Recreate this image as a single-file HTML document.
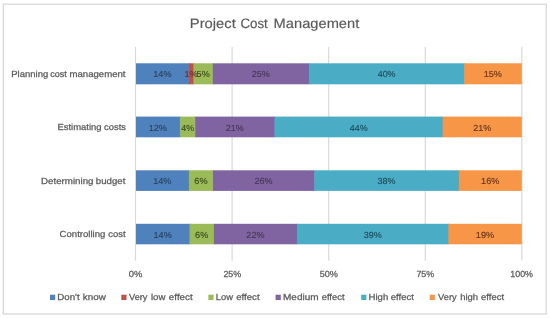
<!DOCTYPE html>
<html lang="en"><head><meta charset="utf-8"><title>Project Cost Management</title>
<style>
html,body{margin:0;padding:0;background:#fff;}
body{width:550px;height:318px;overflow:hidden;}
svg{display:block;}
text{font-family:"Liberation Sans",Arial,sans-serif;text-rendering:geometricPrecision;}
.t{fill:#595959;stroke:#595959;stroke-width:0.25px;font-size:8.8px;}
.d0{fill:#2B4462;stroke:#2B4462;stroke-width:0.15px;font-size:8.8px;}
.d1{fill:#68302E;stroke:#68302E;stroke-width:0.15px;font-size:8.8px;}
.d2{fill:#3A4A20;stroke:#3A4A20;stroke-width:0.15px;font-size:8.8px;}
.d3{fill:#463858;stroke:#463858;stroke-width:0.15px;font-size:8.8px;}
.d4{fill:#204D5A;stroke:#204D5A;stroke-width:0.15px;font-size:8.8px;}
.d5{fill:#663620;stroke:#663620;stroke-width:0.15px;font-size:8.8px;}
.title{fill:#595959;stroke:#595959;stroke-width:0.15px;font-size:13.6px;}
</style></head><body>
<svg width="550" height="318" viewBox="0 0 550 318">
<rect x="0" y="0" width="550" height="318" fill="#ffffff"/>
<rect x="3.3" y="4.2" width="542.9" height="309.8" fill="#ffffff" stroke="#d9d9d9" stroke-width="1.3"/>
<line x1="135.50" y1="46.9" x2="135.50" y2="260.7" stroke="#d9d9d9" stroke-width="1.2"/>
<line x1="232.10" y1="46.9" x2="232.10" y2="260.7" stroke="#d9d9d9" stroke-width="1.2"/>
<line x1="328.70" y1="46.9" x2="328.70" y2="260.7" stroke="#d9d9d9" stroke-width="1.2"/>
<line x1="425.30" y1="46.9" x2="425.30" y2="260.7" stroke="#d9d9d9" stroke-width="1.2"/>
<line x1="521.90" y1="46.9" x2="521.90" y2="260.7" stroke="#d9d9d9" stroke-width="1.2"/>
<rect x="136.0" y="63.30" width="53.8" height="21.0" fill="#4F81BD"/>
<rect x="189.0" y="63.30" width="5.2" height="21.0" fill="#C0504D"/>
<rect x="193.4" y="63.30" width="20.2" height="21.0" fill="#9BBB59"/>
<rect x="212.8" y="63.30" width="96.9" height="21.0" fill="#8064A2"/>
<rect x="308.9" y="63.30" width="156.0" height="21.0" fill="#4BACC6"/>
<rect x="464.1" y="63.30" width="57.7" height="21.0" fill="#F79646"/>
<rect x="136.0" y="116.60" width="44.7" height="20.7" fill="#4F81BD"/>
<rect x="179.9" y="116.60" width="16.2" height="20.7" fill="#9BBB59"/>
<rect x="195.3" y="116.60" width="79.9" height="20.7" fill="#8064A2"/>
<rect x="274.4" y="116.60" width="169.1" height="20.7" fill="#4BACC6"/>
<rect x="442.7" y="116.60" width="79.1" height="20.7" fill="#F79646"/>
<rect x="136.0" y="170.30" width="53.7" height="20.6" fill="#4F81BD"/>
<rect x="188.9" y="170.30" width="24.9" height="20.6" fill="#9BBB59"/>
<rect x="213.0" y="170.30" width="101.9" height="20.6" fill="#8064A2"/>
<rect x="314.1" y="170.30" width="145.6" height="20.6" fill="#4BACC6"/>
<rect x="458.9" y="170.30" width="62.9" height="20.6" fill="#F79646"/>
<rect x="136.0" y="223.80" width="54.3" height="20.5" fill="#4F81BD"/>
<rect x="189.5" y="223.80" width="25.2" height="20.5" fill="#9BBB59"/>
<rect x="213.9" y="223.80" width="83.8" height="20.5" fill="#8064A2"/>
<rect x="296.9" y="223.80" width="152.2" height="20.5" fill="#4BACC6"/>
<rect x="448.3" y="223.80" width="73.5" height="20.5" fill="#F79646"/>
<rect x="50.0" y="294.7" width="5.2" height="5.3" fill="#4F81BD"/>
<rect x="121.3" y="294.7" width="5.2" height="5.3" fill="#C0504D"/>
<rect x="208.4" y="294.7" width="5.2" height="5.3" fill="#9BBB59"/>
<rect x="275.6" y="294.7" width="5.2" height="5.3" fill="#8064A2"/>
<rect x="361.2" y="294.7" width="5.2" height="5.3" fill="#4BACC6"/>
<rect x="429.7" y="294.7" width="5.2" height="5.3" fill="#F79646"/>
<text class="title" y="28"><tspan x="189.81" textLength="45.98" lengthAdjust="spacingAndGlyphs">Project</tspan> <tspan x="240.41" textLength="27.36" lengthAdjust="spacingAndGlyphs">Cost</tspan> <tspan x="273.61" textLength="85.67" lengthAdjust="spacingAndGlyphs">Management</tspan></text>
<text class="t" y="77"><tspan x="11.24" textLength="36.99" lengthAdjust="spacingAndGlyphs">Planning</tspan> <tspan x="50.19" textLength="16.66" lengthAdjust="spacingAndGlyphs">cost</tspan> <tspan x="69.45" textLength="56.10" lengthAdjust="spacingAndGlyphs">management</tspan></text>
<text class="d0" y="77"><tspan x="153.28" textLength="18.25" lengthAdjust="spacingAndGlyphs">14%</tspan></text>
<text class="d1" y="77"><tspan x="184.42" textLength="13.37" lengthAdjust="spacingAndGlyphs">1%</tspan></text>
<text class="d2" y="77"><tspan x="196.64" textLength="13.04" lengthAdjust="spacingAndGlyphs">5%</tspan></text>
<text class="d3" y="77"><tspan x="251.84" textLength="18.04" lengthAdjust="spacingAndGlyphs">25%</tspan></text>
<text class="d4" y="77"><tspan x="377.70" textLength="17.83" lengthAdjust="spacingAndGlyphs">40%</tspan></text>
<text class="d5" y="77"><tspan x="483.73" textLength="18.25" lengthAdjust="spacingAndGlyphs">15%</tspan></text>
<text class="t" y="130"><tspan x="57.45" textLength="44.08" lengthAdjust="spacingAndGlyphs">Estimating</tspan> <tspan x="104.08" textLength="21.84" lengthAdjust="spacingAndGlyphs">costs</tspan></text>
<text class="d0" y="131"><tspan x="148.73" textLength="18.25" lengthAdjust="spacingAndGlyphs">12%</tspan></text>
<text class="d2" y="131"><tspan x="181.25" textLength="12.93" lengthAdjust="spacingAndGlyphs">4%</tspan></text>
<text class="d3" y="131"><tspan x="225.84" textLength="18.04" lengthAdjust="spacingAndGlyphs">21%</tspan></text>
<text class="d4" y="131"><tspan x="349.75" textLength="17.83" lengthAdjust="spacingAndGlyphs">44%</tspan></text>
<text class="d5" y="131"><tspan x="473.24" textLength="18.04" lengthAdjust="spacingAndGlyphs">21%</tspan></text>
<text class="t" y="184"><tspan x="41.03" textLength="52.52" lengthAdjust="spacingAndGlyphs">Determining</tspan> <tspan x="95.85" textLength="29.50" lengthAdjust="spacingAndGlyphs">budget</tspan></text>
<text class="d0" y="184"><tspan x="153.23" textLength="18.25" lengthAdjust="spacingAndGlyphs">14%</tspan></text>
<text class="d2" y="184"><tspan x="194.39" textLength="13.15" lengthAdjust="spacingAndGlyphs">6%</tspan></text>
<text class="d3" y="184"><tspan x="254.54" textLength="18.04" lengthAdjust="spacingAndGlyphs">26%</tspan></text>
<text class="d4" y="184"><tspan x="377.59" textLength="17.93" lengthAdjust="spacingAndGlyphs">38%</tspan></text>
<text class="d5" y="184"><tspan x="481.13" textLength="18.25" lengthAdjust="spacingAndGlyphs">16%</tspan></text>
<text class="t" y="237"><tspan x="59.56" textLength="45.88" lengthAdjust="spacingAndGlyphs">Controlling</tspan> <tspan x="108.38" textLength="17.27" lengthAdjust="spacingAndGlyphs">cost</tspan></text>
<text class="d0" y="238"><tspan x="153.53" textLength="18.25" lengthAdjust="spacingAndGlyphs">14%</tspan></text>
<text class="d2" y="238"><tspan x="195.14" textLength="13.15" lengthAdjust="spacingAndGlyphs">6%</tspan></text>
<text class="d3" y="238"><tspan x="246.39" textLength="18.04" lengthAdjust="spacingAndGlyphs">22%</tspan></text>
<text class="d4" y="238"><tspan x="363.69" textLength="17.93" lengthAdjust="spacingAndGlyphs">39%</tspan></text>
<text class="d5" y="238"><tspan x="475.83" textLength="18.25" lengthAdjust="spacingAndGlyphs">19%</tspan></text>
<text class="t" y="277"><tspan x="128.88" textLength="13.56" lengthAdjust="spacingAndGlyphs">0%</tspan></text>
<text class="t" y="277"><tspan x="223.40" textLength="17.83" lengthAdjust="spacingAndGlyphs">25%</tspan></text>
<text class="t" y="277"><tspan x="319.69" textLength="18.24" lengthAdjust="spacingAndGlyphs">50%</tspan></text>
<text class="t" y="277"><tspan x="416.40" textLength="17.83" lengthAdjust="spacingAndGlyphs">75%</tspan></text>
<text class="t" y="277"><tspan x="510.29" textLength="22.73" lengthAdjust="spacingAndGlyphs">100%</tspan></text>
<text class="t" y="300"><tspan x="57.23" textLength="22.42" lengthAdjust="spacingAndGlyphs">Don't</tspan> <tspan x="82.84" textLength="22.91" lengthAdjust="spacingAndGlyphs">know</tspan></text>
<text class="t" y="300"><tspan x="129.00" textLength="18.50" lengthAdjust="spacingAndGlyphs">Very</tspan> <tspan x="150.95" textLength="14.50" lengthAdjust="spacingAndGlyphs">low</tspan> <tspan x="168.86" textLength="23.89" lengthAdjust="spacingAndGlyphs">effect</tspan></text>
<text class="t" y="300"><tspan x="215.86" textLength="17.09" lengthAdjust="spacingAndGlyphs">Low</tspan> <tspan x="236.27" textLength="23.28" lengthAdjust="spacingAndGlyphs">effect</tspan></text>
<text class="t" y="300"><tspan x="283.00" textLength="35.60" lengthAdjust="spacingAndGlyphs">Medium</tspan> <tspan x="321.68" textLength="22.87" lengthAdjust="spacingAndGlyphs">effect</tspan></text>
<text class="t" y="300"><tspan x="368.54" textLength="19.70" lengthAdjust="spacingAndGlyphs">High</tspan> <tspan x="390.78" textLength="23.07" lengthAdjust="spacingAndGlyphs">effect</tspan></text>
<text class="t" y="300"><tspan x="438.00" textLength="18.70" lengthAdjust="spacingAndGlyphs">Very</tspan> <tspan x="460.26" textLength="17.88" lengthAdjust="spacingAndGlyphs">high</tspan> <tspan x="481.08" textLength="22.97" lengthAdjust="spacingAndGlyphs">effect</tspan></text>
</svg>
</body></html>
